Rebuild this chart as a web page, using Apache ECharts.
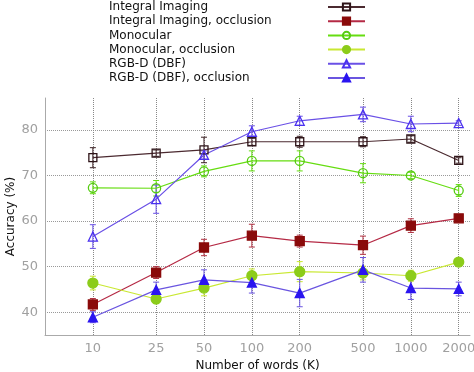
<!DOCTYPE html>
<html>
<head>
<meta charset="utf-8">
<script src="https://cdn.jsdelivr.net/npm/echarts@6/dist/echarts.min.js"></script>
<style>
html,body{margin:0;padding:0;background:#fff;}
#chart{width:474px;height:372px;}
</style>
</head>
<body>
<div id="chart"></div>
<script>
const xValues = [10, 25, 50, 100, 200, 500, 1000, 2000];
const yTicks = [40, 50, 60, 70, 80];
const seriesNames = ['Integral Imaging', 'Integral Imaging, occlusion', 'Monocular', 'Monocular, occlusion', 'RGB-D (DBF)', 'RGB-D (DBF), occlusion'];

const integral = [73.9, 74.9, 75.6, 77.4, 77.4, 77.4, 78.0, 73.3];
const integralErr = [2.2, 0.7, 2.8, 0.8, 1.2, 1.1, 0.7, 0.6];
const integralOcc = [41.7, 48.7, 54.2, 56.8, 55.6, 54.7, 59.0, 60.6];
const integralOccErr = [1.3, 1.3, 1.8, 2.5, 1.3, 2.0, 1.5, 0.7];
const mono = [67.3, 67.2, 70.9, 73.2, 73.2, 70.5, 70.0, 66.7];
const monoErr = [1.3, 1.7, 1.2, 2.2, 2.2, 2.1, 0.7, 1.3];
const monoOcc = [46.4, 42.9, 45.3, 48.0, 48.9, 48.6, 48.0, 51.0];
const monoOccErr = [1.5, 1.0, 1.7, 1.5, 2.2, 1.5, 1.2, 0.4];
const rgbd = [56.6, 64.8, 74.5, 79.6, 82.0, 83.4, 81.3, 81.5];
const rgbdErr = [2.6, 3.1, 0.9, 1.3, 1.0, 1.6, 1.7, 0.5];
const rgbdOcc = [38.9, 44.9, 47.1, 46.5, 44.2, 49.3, 45.3, 45.1];
const rgbdOccErr = [1.2, 1.7, 2.2, 2.3, 3.0, 2.7, 2.5, 1.5];

const styles = [
  {line: '#4b2a30', symbol: 'rect', size: 8, fill: 'rgba(255,255,255,0)', border: '#2e1418', err: '#3a1f22'},
  {line: '#b52a45', symbol: 'rect', size: 9, fill: '#8a0a0a', border: '#8a0a0a', err: '#b03040'},
  {line: '#66dd11', symbol: 'circle', size: 9, fill: 'rgba(255,255,255,0)', border: '#55cc11', err: '#66dd11'},
  {line: '#c9e832', symbol: 'circle', size: 10, fill: '#8ccc1a', border: '#8ccc1a', err: '#c9e832'},
  {line: '#6a50e6', symbol: 'triangle', size: 9, fill: 'rgba(255,255,255,0)', border: '#4a30f0', err: '#6a50e6'},
  {line: '#6a55e0', symbol: 'triangle', size: 9, fill: '#2a14f0', border: '#2a14f0', err: '#6a55e0'}
];
const values = [integral, integralOcc, mono, monoOcc, rgbd, rgbdOcc];
const errors = [integralErr, integralOccErr, monoErr, monoOccErr, rgbdErr, rgbdOccErr];

function errRender(color) {
  return function (params, api) {
    const x = api.value(0), lo = api.value(1), hi = api.value(2);
    const p1 = api.coord([x, lo]), p2 = api.coord([x, hi]);
    const w = 3;
    const st = {stroke: color, lineWidth: 1};
    return {type: 'group', children: [
      {type: 'line', shape: {x1: p1[0], y1: p1[1], x2: p2[0], y2: p2[1]}, style: st},
      {type: 'line', shape: {x1: p1[0] - w, y1: p1[1], x2: p1[0] + w, y2: p1[1]}, style: st},
      {type: 'line', shape: {x1: p2[0] - w, y1: p2[1], x2: p2[0] + w, y2: p2[1]}, style: st}
    ]};
  };
}

const series = [];
seriesNames.forEach(function (name, k) {
  const s = styles[k];
  series.push({
    type: 'custom', name: name + ' err', z: 2,
    renderItem: errRender(s.err),
    encode: {x: 0, y: [1, 2]},
    data: xValues.map(function (x, i) { return [x, values[k][i] - errors[k][i], values[k][i] + errors[k][i]]; }),
    silent: true
  });
});
seriesNames.forEach(function (name, k) {
  const s = styles[k];
  series.push({
    type: 'line', name: name, z: 3,
    data: xValues.map(function (x, i) { return [x, values[k][i]]; }),
    symbol: s.symbol, symbolSize: s.size, showAllSymbol: true,
    lineStyle: {color: s.line, width: 1.2},
    itemStyle: {color: s.fill, borderColor: s.border, borderWidth: 1.3},
    emphasis: {disabled: true},
    animation: false
  });
});

const chart = echarts.init(document.getElementById('chart'));
chart.setOption({
  animation: false,
  textStyle: {fontFamily: 'DejaVu Sans'},
  legend: {
    data: seriesNames,
    orient: 'vertical',
    left: 109, top: 1, padding: 0,
    align: 'right',
    itemWidth: 37, itemHeight: 9, itemGap: 2.2,
    formatter: function (n) { return '{a|' + n + '}'; },
    textStyle: {
      rich: {a: {width: 214, align: 'left', fontSize: 12, color: '#111', fontFamily: 'DejaVu Sans', lineHeight: 14}}
    }
  },
  grid: {left: 45, right: 4, top: 98, bottom: 37, containLabel: false, outerBoundsMode: 'none'},
  xAxis: {
    type: 'log', logBase: 10, min: 5, max: 2355,
    name: 'Number of words (K)', nameLocation: 'middle', nameGap: 25, nameMoveOverlap: false,
    nameTextStyle: {color: '#111', fontSize: 12, fontFamily: 'DejaVu Sans'},
    axisLine: {show: true, lineStyle: {color: '#aaa'}},
    axisTick: {show: false, customValues: xValues},
    axisLabel: {customValues: xValues, color: '#a0a0a0', fontSize: 13, margin: 7, fontFamily: 'DejaVu Sans',
      formatter: function (v) { return String(Math.round(v)); }},
    splitLine: {show: true, lineStyle: {type: 'dotted', color: '#888', width: 1}},
    minorTick: {show: false}, minorSplitLine: {show: false}
  },
  yAxis: {
    type: 'value', min: 35, max: 87,
    name: 'Accuracy (%)', nameLocation: 'middle', nameGap: 28, nameMoveOverlap: false,
    nameTextStyle: {color: '#111', fontSize: 12, fontFamily: 'DejaVu Sans'},
    axisLine: {show: true, lineStyle: {color: '#aaa'}},
    axisTick: {show: false, customValues: yTicks},
    axisLabel: {customValues: yTicks, color: '#a0a0a0', fontSize: 13, margin: 7, fontFamily: 'DejaVu Sans'},
    splitLine: {show: true, lineStyle: {type: 'dotted', color: '#999', width: 1}}
  },
  series: series
});
</script>
</body>
</html>
